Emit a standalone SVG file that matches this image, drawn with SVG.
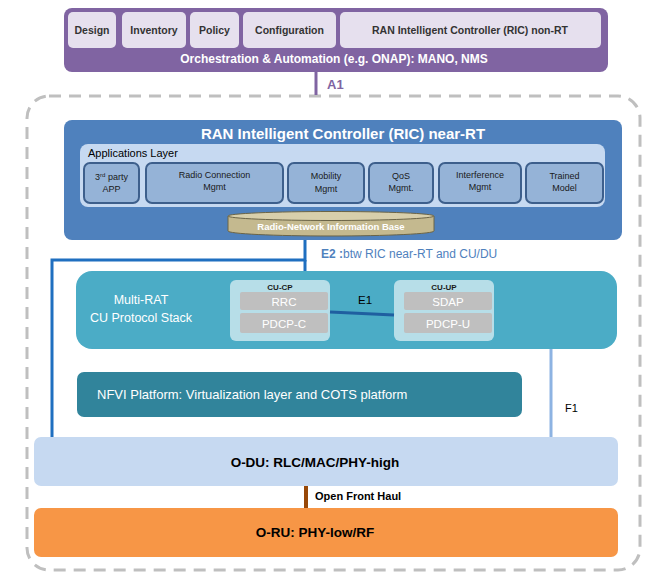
<svg xmlns="http://www.w3.org/2000/svg" width="653" height="578" viewBox="0 0 653 578">
<style>
text{font-family:"Liberation Sans",Arial,sans-serif}
.b{font-weight:bold}
.c{text-anchor:middle}
.top{fill:#e6e0ee;stroke:none}
.app{fill:#95b3d7;stroke:#3d5f8c;stroke-width:2}
.gray{fill:#bfbfbf}
.wt{fill:#fff}
</style>
<rect width="653" height="578" fill="#fff"/>
<!-- dashed frame -->
<rect x="27" y="96" width="613" height="474" rx="22" fill="none" stroke="#bfbfbf" stroke-width="3" stroke-dasharray="12 8"/>

<g id="orchestration">
  <rect x="64" y="8" width="544" height="64" rx="8" fill="#8064a2"/>
  <rect x="68" y="12" width="48" height="36" rx="5" class="top"/>
  <rect x="122" y="12" width="64" height="36" rx="5" class="top"/>
  <rect x="190" y="12" width="49" height="36" rx="5" class="top"/>
  <rect x="243" y="12" width="93" height="36" rx="5" class="top"/>
  <rect x="340" y="12" width="261" height="36" rx="5" class="top"/>
  <text x="92" y="34" class="b c" font-size="10.5" fill="#333">Design</text>
  <text x="154" y="34" class="b c" font-size="10.5" fill="#333">Inventory</text>
  <text x="214.5" y="34" class="b c" font-size="10.5" fill="#333">Policy</text>
  <text x="289.5" y="34" class="b c" font-size="10.5" fill="#333">Configuration</text>
  <text x="470" y="34" class="b c" font-size="10.5" fill="#333">RAN Intelligent Controller (RIC) non-RT</text>
  <text x="334" y="63" class="b c wt" font-size="12">Orchestration &amp; Automation (e.g. ONAP): MANO, NMS</text>
</g>

<g id="ric-near-rt">
  <rect x="64" y="120" width="558" height="120" rx="8" fill="#4f81bd"/>
  <text x="343" y="139" class="b c wt" font-size="15">RAN Intelligent Controller (RIC) near-RT</text>
  <rect x="80" y="144" width="525" height="63" rx="8" fill="#c6d9f1"/>
  <text x="88" y="157" font-size="11" fill="#000">Applications Layer</text>
  <rect x="84" y="163" width="55" height="40" rx="6" class="app"/>
  <rect x="146" y="163" width="137" height="40" rx="6" class="app"/>
  <rect x="288" y="163" width="76" height="40" rx="6" class="app"/>
  <rect x="369" y="163" width="64" height="40" rx="6" class="app"/>
  <rect x="439" y="163" width="82" height="40" rx="6" class="app"/>
  <rect x="526" y="163" width="77" height="40" rx="6" class="app"/>
  <g font-size="9" fill="#1a1a1a">
    <text x="111.5" y="180" class="c">3<tspan font-size="6" dy="-3">rd</tspan><tspan dy="3"> party</tspan></text>
    <text x="111.5" y="192" class="c">APP</text>
    <text x="214.5" y="178" class="c">Radio Connection</text>
    <text x="214.5" y="190" class="c">Mgmt</text>
    <text x="326" y="179" class="c">Mobility</text>
    <text x="326" y="192" class="c">Mgmt</text>
    <text x="401" y="179" class="c">QoS</text>
    <text x="401" y="191" class="c">Mgmt.</text>
    <text x="480" y="178" class="c">Interference</text>
    <text x="480" y="190" class="c">Mgmt</text>
    <text x="564.5" y="179" class="c">Trained</text>
    <text x="564.5" y="191" class="c">Model</text>
  </g>
  <path d="M228,216 L228,231 A103,5 0 0 0 434,231 L434,216" fill="#c4b98f" stroke="#6b6446" stroke-width="1"/>
  <ellipse cx="331" cy="216" rx="103" ry="4.5" fill="#d8cfab" stroke="#6b6446" stroke-width="1"/>
  <text x="331" y="230" class="b c wt" font-size="9.5">Radio-Network Information Base</text>
</g>

<g id="cu">
  <rect x="76" y="271" width="541" height="78" rx="16" fill="#4bacc6"/>
  <text x="141" y="304" class="c wt" font-size="12.5">Multi-RAT</text>
  <text x="141" y="322" class="c wt" font-size="12.5">CU Protocol Stack</text>
  <rect x="230" y="280" width="100" height="61" rx="6" fill="#b7dee8"/>
  <text x="280" y="290" class="b c" font-size="8" fill="#1a1a1a">CU-CP</text>
  <rect x="240" y="292" width="88" height="18" rx="2" class="gray"/>
  <text x="284" y="305.5" class="c wt" font-size="11.5">RRC</text>
  <rect x="240" y="313" width="88" height="20" rx="2" class="gray"/>
  <text x="284" y="327.5" class="c wt" font-size="11.5">PDCP-C</text>
  <rect x="394" y="280" width="100" height="61" rx="6" fill="#b7dee8"/>
  <text x="444" y="290" class="b c" font-size="8" fill="#1a1a1a">CU-UP</text>
  <rect x="404" y="292" width="88" height="18" rx="2" class="gray"/>
  <text x="448" y="305.5" class="c wt" font-size="11.5">SDAP</text>
  <rect x="404" y="313" width="88" height="20" rx="2" class="gray"/>
  <text x="448" y="327.5" class="c wt" font-size="11.5">PDCP-U</text>
</g>

<g id="nfvi">
  <rect x="77" y="372" width="445" height="45" rx="7" fill="#31849b"/>
  <text x="97" y="399" class="wt" font-size="13">NFVI Platform: Virtualization layer and COTS platform</text>
</g>

<g id="o-du">
  <rect x="34" y="437" width="584" height="49" rx="7" fill="#c6d9f1"/>
  <text x="315" y="467" class="b c" font-size="13.5" fill="#000">O-DU: RLC/MAC/PHY-high</text>
</g>

<g id="o-ru">
  <rect x="34" y="508" width="584" height="49" rx="7" fill="#f79646"/>
  <text x="315" y="537" class="b c" font-size="13.5" fill="#000">O-RU: PHY-low/RF</text>
</g>

<g id="connectors">
  <line x1="316" y1="72" x2="316" y2="95" stroke="#8064a2" stroke-width="3"/>
  <text x="327" y="89" class="b" font-size="13" fill="#8064a2">A1</text>
  <polyline points="305,240 305,260 52,260 52,437" fill="none" stroke="#1f6fc0" stroke-width="3"/>
  <line x1="305" y1="260" x2="305" y2="271" stroke="#1f6fc0" stroke-width="3"/>
  <text x="321" y="258" font-size="12" fill="#4f81bd"><tspan class="b">E2 :</tspan>btw RIC near-RT and CU/DU</text>
  <line x1="330" y1="312" x2="394" y2="315" stroke="#1f5fa0" stroke-width="3"/>
  <text x="358" y="304" font-size="11.5" fill="#000">E1</text>
  <line x1="551" y1="349" x2="551" y2="437" stroke="#8db3e2" stroke-width="3"/>
  <text x="565" y="412" font-size="11" fill="#000">F1</text>
  <line x1="306" y1="486" x2="306" y2="508" stroke="#984807" stroke-width="4"/>
  <text x="315" y="500" class="b" font-size="11" fill="#000">Open Front Haul</text>
</g>
</svg>
